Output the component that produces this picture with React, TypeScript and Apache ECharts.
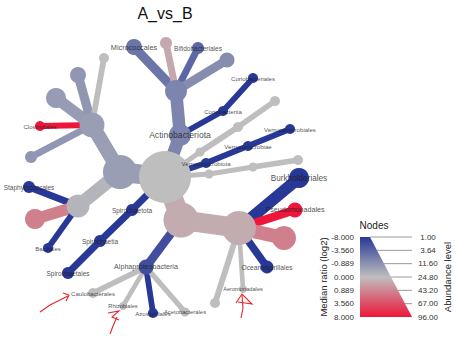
import React, { useEffect, useRef } from "react";
import * as echarts from "echarts";

const TITLE = "A_vs_B";

// Heat-tree nodes (taxa)
const NODE_LABELS = [
  "", "", "", "Staphylococcales", "", "Bacillales", "", "Clostridiales", "", "", "", "",
  "Actinobacteriota", "", "Micrococcales", "", "Bifidobacteriales", "", "Coriobacteriia", "Coriobacteriales",
  "", "", "", "Verrucomicrobiota", "Verrucomicrobiae", "Verrucomicrobiales", "", "", "",
  "", "", "Burkholderiales", "Pseudomonadales", "", "Oceanospirillales", "Aeromonadales", "",
  "Alphaproteobacteria", "Caulobacterales", "Rhizobiales", "Azospirillales", "Acetobacterales",
  "Spirochaetota", "Spirochaetia", "Spirochaetales",
];
const NODE_X = [
  165, 120, 78, 29, 35, 48, 92, 40, 56, 78, 104, 31,
  180, 176, 134, 166, 198, 227, 223, 253,
  200, 238, 275, 206, 248, 290, 209, 253, 298,
  181, 239, 299, 295, 284, 267, 243, 215,
  146, 93, 123, 153, 185,
  132, 100, 68,
];
const NODE_Y = [
  177, 172, 206, 187, 219, 248, 125, 126, 98, 75, 58, 157,
  135, 91, 47, 43, 48, 60, 111, 78,
  152, 127, 101, 163, 146, 129, 174, 167, 160,
  220, 228, 178, 210, 238, 267, 289, 303,
  267, 293, 306, 313, 312,
  210, 241, 273,
];
const NODE_PARENT = [
  -1, 0, 1, 2, 2, 2, 1, 6, 6, 6, 6, 6,
  0, 12, 13, 13, 13, 13, 12, 18,
  0, 20, 21, 0, 23, 24, 0, 26, 27,
  0, 29, 30, 30, 30, 30, 30, 30,
  29, 37, 37, 37, 37,
  0, 42, 43,
];
const NODE_LOG2_RATIO = [
  0, -0.64, -0.18, -8, 1.18, -8, -0.64, 8, -0.7, -0.8, 0, -0.8,
  -1.69, -1.69, -2.6, 0.35, -3.45, -1.16, -8, -8,
  0, 0, 0, -8, -8, -8, 0, 0, 0,
  0.29, 0.29, -8, 8, 1.18, -8, 0, 0,
  -5.78, 0, 0, -8, 0,
  -8, -8, -8,
];
const NODE_ABUNDANCE = [
  96, 34.2, 12.0, 1.79, 8.1, 1.2, 15.2, 1.2, 8.1, 4.1, 1.2, 1.79,
  10.6, 10.6, 4.1, 1.79, 1.79, 3.4, 1.2, 1.2,
  1.05, 1.2, 1.2, 1.2, 1.2, 1.2, 1.05, 1.05, 1.2,
  36.8, 34.2, 8.1, 3.4, 13.6, 2.2, 1.0, 1.2,
  3.4, 1.2, 1.0, 1.2, 1.05,
  1.79, 1.79, 1.79,
];

// Legend scales
const RATIO_TICKS = [-8, -3.56, -0.889, 0, 0.889, 3.56, 8];
const RATIO_TICK_LABELS = ["-8.000", "-3.560", "-0.889", "0.000", "0.889", "3.560", "8.000"];
const ABUNDANCE_TICK_LABELS = ["1.00", "3.64", "11.60", "24.80", "43.20", "67.00", "96.00"];

const BLUE = [40, 56, 150];
const GRAY = [190, 190, 190];
const RED = [238, 22, 58];

function ratioToP(v: number): number {
  const n = RATIO_TICKS.length - 1;
  if (v <= RATIO_TICKS[0]) return 0;
  if (v >= RATIO_TICKS[n]) return 1;
  for (let i = 0; i < n; i++) {
    const a = RATIO_TICKS[i], b = RATIO_TICKS[i + 1];
    if (v >= a && v <= b) return (i + (v - a) / (b - a)) / n;
  }
  return 0.5;
}
function mix(c1: number[], c2: number[], t: number) {
  const c = c1.map((x, i) => Math.round(x + (c2[i] - x) * t));
  return `rgb(${c[0]},${c[1]},${c[2]})`;
}
function colorOf(v: number): string {
  const p = ratioToP(v);
  return p <= 0.5 ? mix(BLUE, GRAY, p / 0.5) : mix(GRAY, RED, (p - 0.5) / 0.5);
}
function radiusOf(a: number): number {
  const p = Math.sqrt(Math.max(0, a - 1) / 95);
  return 4 + 22 * p;
}

const FONT = "Liberation Sans, Arial, Helvetica, sans-serif";

export default function App() {
  const ref = useRef<HTMLDivElement>(null);
  useEffect(() => {
    if (!ref.current) return;
    const chart = echarts.init(ref.current, null, { renderer: "svg" });

    const nodes = NODE_X.map((x, i) => {
      const r = radiusOf(NODE_ABUNDANCE[i]);
      return {
        id: String(i),
        name: String(i),
        value: [x, NODE_Y[i]],
        symbolSize: r * 2,
        itemStyle: { color: colorOf(NODE_LOG2_RATIO[i]) },
      };
    });
    const links = NODE_PARENT.map((p, i) => ({ p, i }))
      .filter((d) => d.p >= 0)
      .map(({ p, i }) => ({
        source: p,
        target: i,
        lineStyle: {
          color: colorOf(NODE_LOG2_RATIO[i]),
          width: 1.15 * radiusOf(NODE_ABUNDANCE[i]),
          opacity: 1,
          curveness: 0,
        },
      }));
    const labelPoints = NODE_X.map((x, i) => ({ i, x }))
      .filter((d) => NODE_LABELS[d.i] !== "")
      .map(({ i, x }) => ({
        name: NODE_LABELS[i],
        value: [x, NODE_Y[i]],
        label: { fontSize: 4 + 0.42 * radiusOf(NODE_ABUNDANCE[i]) },
      }));

    // legend geometry
    const lx = 360, ly0 = 237, ly1 = 317, topW = 10, botW = 52;
    const levels = RATIO_TICK_LABELS.map((_, k) => ly0 + ((ly1 - ly0) * k) / (RATIO_TICK_LABELS.length - 1));
    const gradStops = [
      { offset: 0, color: colorOf(-8) },
      { offset: 0.5, color: colorOf(0) },
      { offset: 1, color: colorOf(8) },
    ];
    const legendEls: any[] = [
      {
        type: "polygon",
        shape: { points: [[lx, ly0], [lx + topW, ly0], [lx + botW, ly1], [lx, ly1]] },
        style: { fill: new echarts.graphic.LinearGradient(0, 0, 0, 1, gradStops) },
      },
      {
        type: "text", x: 374, y: 225,
        style: { text: "Nodes", fontSize: 10, fontFamily: FONT, fill: "#222", align: "center", verticalAlign: "middle" },
      },
      {
        type: "text", x: 323, y: 277, rotation: Math.PI / 2,
        style: { text: "Median ratio (log2)", fontSize: 9.5, fontFamily: FONT, fill: "#222", align: "center", verticalAlign: "middle" },
      },
      {
        type: "text", x: 447, y: 277, rotation: Math.PI / 2,
        style: { text: "Abundance level", fontSize: 9.5, fontFamily: FONT, fill: "#222", align: "center", verticalAlign: "middle" },
      },
    ];
    levels.forEach((y, k) => {
      const t = (y - ly0) / (ly1 - ly0);
      const xEdge = lx + topW + (botW - topW) * t;
      if (412 - xEdge > 1) {
        legendEls.push({
          type: "line",
          shape: { x1: xEdge, y1: y, x2: 412, y2: y },
          style: { stroke: "#9a9a9a", lineWidth: 1 },
        });
      }
      legendEls.push({
        type: "text", x: 354, y,
        style: { text: RATIO_TICK_LABELS[k], fontSize: 8, fontFamily: FONT, fill: "#333", align: "right", verticalAlign: "middle" },
      });
      legendEls.push({
        type: "text", x: 428, y,
        style: { text: ABUNDANCE_TICK_LABELS[k], fontSize: 8, fontFamily: FONT, fill: "#333", align: "center", verticalAlign: "middle" },
      });
    });

    // hand-drawn red annotation arrows
    const pen = { stroke: "#e8242c", lineWidth: 1.1, fill: "none" };
    const arrows: any[] = [
      { type: "polyline", shape: { points: [[40, 312], [50, 305], [60, 300], [68, 296]] }, style: pen },
      { type: "polyline", shape: { points: [[63, 293], [69, 295], [66, 301]] }, style: pen },
      { type: "polyline", shape: { points: [[110, 334], [113, 326], [117, 317]] }, style: pen },
      { type: "polyline", shape: { points: [[108, 313], [119, 311], [112, 317], [119, 320]] }, style: pen },
      { type: "polyline", shape: { points: [[241, 318], [243, 308], [242, 295]] }, style: pen },
      { type: "polyline", shape: { points: [[236, 303], [242, 294], [252, 304], [238, 302]] }, style: pen },
    ];

    chart.setOption({
      animation: false,
      title: {
        text: TITLE,
        left: 165,
        top: 5,
        padding: 0,
        textAlign: "center",
        textStyle: { fontSize: 16, fontWeight: "normal", fontFamily: FONT, color: "#111" },
      },
      grid: { left: 0, right: 0, top: 0, bottom: 0 },
      xAxis: { type: "value", min: 0, max: 474, show: false },
      yAxis: { type: "value", min: 0, max: 343, inverse: true, show: false },
      series: [
        {
          type: "graph",
          coordinateSystem: "cartesian2d",
          layout: "none",
          symbol: "circle",
          silent: true,
          data: nodes,
          links,
          emphasis: { disabled: true },
          itemStyle: { borderWidth: 0 },
          lineStyle: { opacity: 1 },
          label: { show: false },
          z: 2,
        },
        {
          type: "scatter",
          silent: true,
          symbolSize: 0,
          z: 5,
          itemStyle: { color: "transparent" },
          data: labelPoints,
          label: {
            show: true,
            position: "inside",
            formatter: "{b}",
            fontFamily: FONT,
            color: "#1a1a1a",
            textBorderWidth: 0,
            textBorderColor: "transparent",
          },
          emphasis: { disabled: true },
        },
      ],
      graphic: [...legendEls, ...arrows],
    });
    return () => chart.dispose();
  }, []);
  return <div ref={ref} style={{ position: "absolute", left: 0, top: 0, width: 474, height: 343 }} />;
}
